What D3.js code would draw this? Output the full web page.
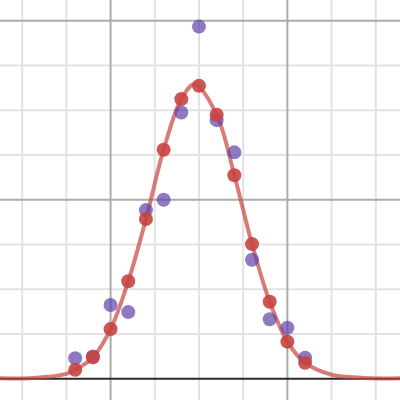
<!DOCTYPE html>
<html>
<head>
<meta charset="utf-8">
<script src="https://cdn.jsdelivr.net/npm/d3@7"></script>
<style>
  html, body { margin: 0; padding: 0; background: #fff; }
  svg { display: block; }
</style>
</head>
<body>
<div id="chart"></div>
<script>
// sample positions (shared by both point sets)
var sampleX = [-0.8, -0.4, 0, 0.4, 0.8, 1.2, 1.6, 2.0, 2.4, 2.8, 3.2, 3.6, 4.0, 4.4];
// red points, sitting on the fitted curve
var redY = [0.20, 0.48, 1.11, 2.18, 3.57, 5.12, 6.25, 6.55, 5.90, 4.55, 3.01, 1.72, 0.83, 0.36];
// purple points, the noisy observations
var purpleY = [0.46, 0.50, 1.65, 1.49, 3.77, 4.00, 5.95, 7.87, 5.78, 5.06, 2.66, 1.33, 1.14, 0.47];
// the fitted curve (tails + through the red points)
var curveX = [-2.5, -1.75, -1.0, -0.8, -0.4, 0, 0.4, 0.8, 1.2, 1.6, 1.9, 2.4, 2.8, 3.2, 3.6, 4.0, 4.4, 5.0, 5.75, 6.55];
var curveY = [0.01, 0.02, 0.11, 0.20, 0.48, 1.11, 2.18, 3.57, 5.12, 6.25, 6.58, 5.90, 4.55, 3.01, 1.72, 0.83, 0.36, 0.09, 0.02, 0.01];
// grid lines
var gridX = [-2, -1, 0, 1, 2, 3, 4, 5, 6];
var gridY = [1, 2, 3, 4, 5, 6, 7, 8];
var majorStep = 4;

var width = 400, height = 400;

var x = d3.scaleLinear().domain([-2.502, 6.548]).range([0, width]);
var y = d3.scaleLinear().domain([-0.474, 8.465]).range([height, 0]);

var svg = d3.select('#chart').append('svg')
    .attr('width', width)
    .attr('height', height);

// minor grid first, then major on top
svg.append('g').selectAll('line')
    .data(gridX.filter(function(d) { return d % majorStep !== 0; }))
    .enter().append('line')
    .attr('x1', function(d) { return x(d); }).attr('x2', function(d) { return x(d); })
    .attr('y1', 0).attr('y2', height)
    .attr('stroke', '#e2e2e2').attr('stroke-width', 2);

svg.append('g').selectAll('line')
    .data(gridY.filter(function(d) { return d % majorStep !== 0; }))
    .enter().append('line')
    .attr('y1', function(d) { return y(d); }).attr('y2', function(d) { return y(d); })
    .attr('x1', 0).attr('x2', width)
    .attr('stroke', '#e2e2e2').attr('stroke-width', 2);

svg.append('g').selectAll('line')
    .data(gridX.filter(function(d) { return d % majorStep === 0; }))
    .enter().append('line')
    .attr('x1', function(d) { return x(d); }).attr('x2', function(d) { return x(d); })
    .attr('y1', 0).attr('y2', height)
    .attr('stroke', '#ababab').attr('stroke-width', 2);

svg.append('g').selectAll('line')
    .data(gridY.filter(function(d) { return d % majorStep === 0; }))
    .enter().append('line')
    .attr('y1', function(d) { return y(d); }).attr('y2', function(d) { return y(d); })
    .attr('x1', 0).attr('x2', width)
    .attr('stroke', '#ababab').attr('stroke-width', 2);

// x axis
svg.append('line')
    .attr('x1', 0).attr('x2', width)
    .attr('y1', y(0)).attr('y2', y(0))
    .attr('stroke', '#2a2a2a').attr('stroke-width', 2);

// fitted curve
var curvePts = curveX.map(function(d, i) { return [d, curveY[i]]; });
var line = d3.line()
    .x(function(d) { return x(d[0]); })
    .y(function(d) { return y(d[1]); })
    .curve(d3.curveCatmullRom.alpha(0.5));

svg.append('path')
    .datum(curvePts)
    .attr('d', line)
    .attr('fill', 'none')
    .attr('stroke', '#c74440')
    .attr('stroke-opacity', 0.7)
    .attr('stroke-width', 4)
    .attr('stroke-linecap', 'round');

// purple points
svg.append('g').selectAll('circle')
    .data(sampleX)
    .enter().append('circle')
    .attr('cx', function(d) { return x(d); })
    .attr('cy', function(d, i) { return y(purpleY[i]); })
    .attr('r', 7)
    .attr('fill', '#6042a6')
    .attr('fill-opacity', 0.7);

// red points
svg.append('g').selectAll('circle')
    .data(sampleX)
    .enter().append('circle')
    .attr('cx', function(d) { return x(d); })
    .attr('cy', function(d, i) { return y(redY[i]); })
    .attr('r', 7)
    .attr('fill', '#c74440')
    .attr('fill-opacity', 0.9);
</script>
</body>
</html>
